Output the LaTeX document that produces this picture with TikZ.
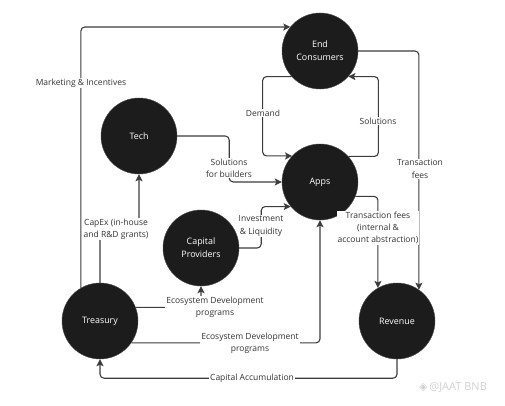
\documentclass[tikz,border=0pt]{standalone}
\usepackage{fontspec}
\setmainfont{Open Sans}
\newfontfamily\symfont{DejaVu Sans}
\usetikzlibrary{arrows.meta,calc}
\definecolor{nodefill}{HTML}{1C1C1C}
\definecolor{linecol}{HTML}{3C3C3C}
\definecolor{lblcol}{HTML}{333333}
\definecolor{wmcol}{HTML}{D0D0D0}
\begin{document}
\begin{tikzpicture}[x=1pt,y=-1pt,
  hub/.style={circle,fill=nodefill,draw=nodefill!80!white,line width=0.4pt,minimum size=76pt,inner sep=0pt,text=white,align=center,font=\fontsize{8.9}{13}\selectfont},
  lbl/.style={fill=white,inner sep=1pt,text=lblcol,align=center,font=\fontsize{8.5}{12.2}\selectfont},
  flow/.style={draw=linecol,line width=1.1pt,rounded corners=4pt,-{Stealth[length=7pt,width=7pt,inset=1.5pt]}},
  wm/.style={text=wmcol,font=\fontsize{11}{13}\selectfont}]
\useasboundingbox (0,0) rectangle (505,406);
% nodes
\node[hub] (ec) at (320,51) {End\\Consumers};
\node[hub] (tech) at (139,136) {Tech};
\node[hub] (apps) at (320,182) {Apps};
\node[hub] (cp) at (201,248) {Capital\\Providers};
\node[hub] (tr) at (100,321) {Treasury};
\node[hub] (rev) at (397,321) {Revenue};
% connectors
\draw[flow] (tr.120) |- (ec.141);
\draw[flow] (ec.222) -- ++(-29,0) |- (apps.137);
\draw[flow] (apps.42) -| ($(ec.318)+(30,0)$) -- (ec.318);
\draw[flow] (ec.east) -| (rev.55);
\draw[flow] (tech.east) -- ++(52,0) |- (apps.west);
\draw[flow] (tr.north) -- ++(0,-54) -| (tech.south);
\draw[flow] (cp.east) -- ++(22,0) |- (apps.220);
\draw[flow] (tr.21) -| (cp.south);
\draw[flow] (tr.325) -| (apps.south);
\draw[flow] (apps.338) -| (rev.120);
\draw[flow] (rev.south) -- ++(0,19) -| (tr.south);
% labels
\node[lbl] (l1) at (81,83) {Marketing \& Incentives};
\node[lbl] (l2) at (263,113) {Demand};
\node[lbl] (l3) at (378,121) {Solutions};
\node[lbl] (l4) at (420,169) {Transaction\\fees};
\node[lbl] (l5) at (229,168) {Solutions\\for builders};
\node[lbl] (l6) at (116,229) {CapEx (in-house\\and R\&D grants)};
\node[lbl] (l7) at (261,226) {Investment\\\& Liquidity};
\node[lbl] (l8) at (215,307) {Ecosystem Development\\programs};
\node[lbl] (l9) at (250,343) {Ecosystem Development\\programs};
\node[lbl] (l10) at (378,228) {Transaction fees\\(internal \&\\account abstraction)};
\node[lbl] (l11) at (252,378) {Capital Accumulation};
% watermark
\node[wm] (wm) at (453,388) {{\symfont ◈}\,@JAAT BNB};
\end{tikzpicture}
\end{document}
